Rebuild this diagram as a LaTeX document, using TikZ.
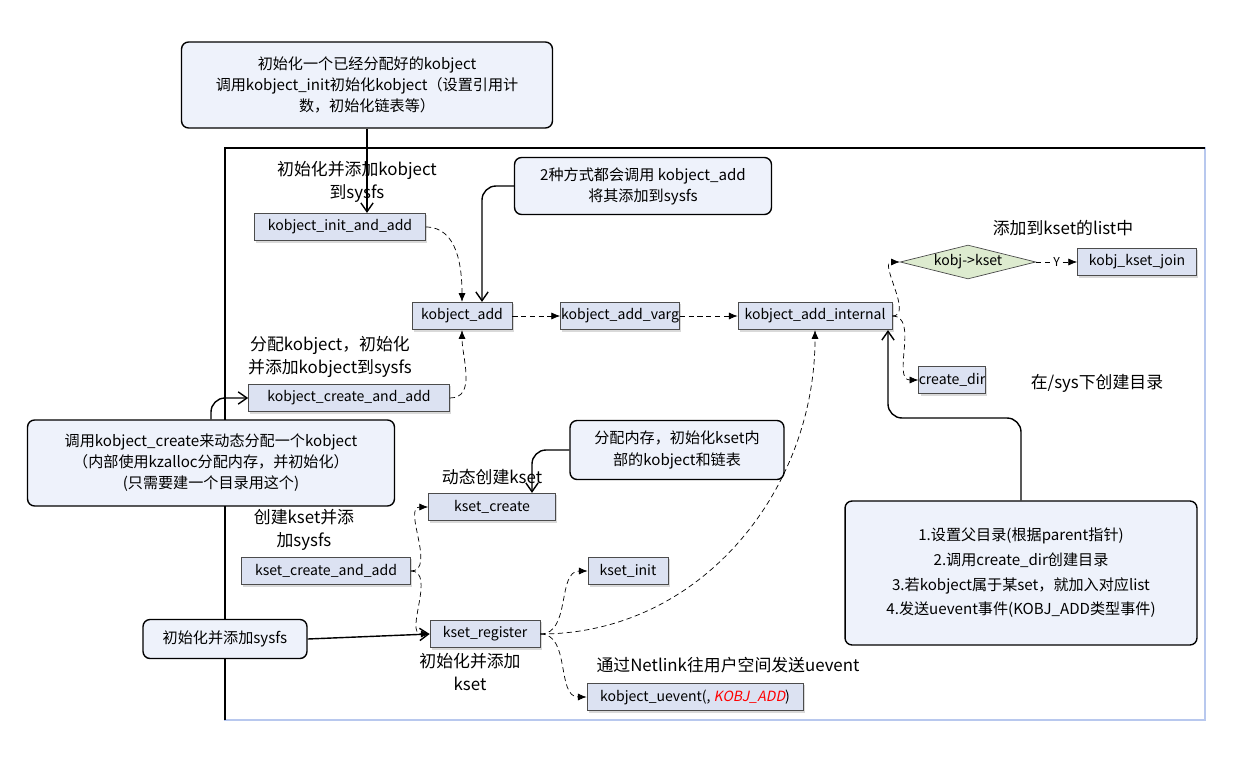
\documentclass[tikz,border=0pt]{standalone}
\usepackage{fontspec}
\setmainfont{Noto Sans CJK SC}
\newfontfamily\slfont{Noto Sans CJK SC}[FakeSlant=0.2]
\usetikzlibrary{shapes.geometric,arrows.meta,shadows}
\definecolor{boxfill}{HTML}{DCE2F2}
\definecolor{notefill}{HTML}{EEF2FB}
\definecolor{diafill}{HTML}{DDEBCF}
\definecolor{framecol}{HTML}{B8C8EE}
\tikzset{
  func/.style={draw=black!70, fill=boxfill, font=\fontsize{8}{9}\selectfont, inner sep=0pt,
    minimum height=0.55cm, drop shadow={shadow xshift=1pt, shadow yshift=-1pt, opacity=0.3}},
  note/.style={draw, thick, fill=notefill, rounded corners=4pt, align=center,
    font=\fontsize{8.6}{12}\selectfont, inner sep=0pt},
  lbl/.style={align=center, font=\fontsize{9.6}{13}\selectfont},
  flow/.style={densely dashed, -{Latex[length=5pt,width=4pt]}},
  call/.style={thick, -{Straight Barb[length=5pt,width=7pt]}, rounded corners=8pt}
}
\begin{document}
\begin{tikzpicture}[x=0.02cm, y=-0.02cm]
\useasboundingbox (0,0) rectangle (1243,760);
% frame
\draw[framecol, thick] (225,148) rectangle (1205,720);
\draw[very thick] (225,720) -- (225,148) -- (1205,148);

% kobject functions
\node[func, minimum width=3.42cm] (kinit) at (340,227) {kobject\_init\_and\_add};
\node[func, minimum width=2cm] (kadd) at (462,316) {kobject\_add};
\node[func, minimum width=2.38cm] (kvarg) at (620,316) {kobject\_add\_varg};
\node[func, minimum width=3.08cm] (kinternal) at (815,316) {kobject\_add\_internal};
\node[diamond, draw=black!70, fill=diafill, aspect=4, inner sep=0.5pt, minimum height=0.56cm,
  font=\fontsize{8}{9}\selectfont] (haskset) at (968,262) {kobj->kset};
\node[func, minimum width=2.38cm] (kjoin) at (1137,262) {kobj\_kset\_join};
\node[func, minimum width=1.26cm] (createdir) at (952,380) {create\_dir};
\node[func, minimum width=4.02cm] (kcreate) at (349,398) {kobject\_create\_and\_add};

% kset functions
\node[func, minimum width=2.54cm] (ksetcreate) at (492,507) {kset\_create};
\node[func, minimum width=3.38cm] (ksetadd) at (326,571) {kset\_create\_and\_add};
\node[func, minimum width=1.6cm] (ksetinit) at (628,571) {kset\_init};
\node[func, minimum width=2.2cm] (kreg) at (485,634) {kset\_register};
\node[func, minimum width=4.32cm] (kuevent) at (695,697) {kobject\_uevent(, \textcolor{red}{\slfont KOBJ\_ADD})};

% labels
\node[lbl] (linit) at (357,182) {初始化并添加kobject\\到sysfs};
\node[lbl] (lcreate) at (330,357) {分配kobject，初始化\\并添加kobject到sysfs};
\node[lbl] (ljoin) at (1063,228) {添加到kset的list中};
\node[lbl] (ldir) at (1097,383) {在/sys下创建目录};
\node[lbl] (lkcreate) at (492,477) {动态创建kset};
\node[lbl] (lksetadd) at (304,530) {创建kset并添\\加sysfs};
\node[lbl] (lkreg) at (470,672) {初始化并添加\\kset};
\node[lbl] (luevent) at (728,665) {通过Netlink往用户空间发送uevent};

% notes
\node[note, minimum width=7.42cm, minimum height=1.72cm] (ninit) at (367,85)
  {初始化一个已经分配好的kobject\\调用kobject\_init初始化kobject（设置引用计\\数，初始化链表等）};
\node[note, minimum width=5.14cm, minimum height=1.14cm] (nadd) at (643,186)
  {2种方式都会调用 kobject\_add\\将其添加到sysfs};
\node[note, minimum width=7.34cm, minimum height=1.72cm] (ncreate) at (211,463)
  {调用kobject\_create来动态分配一个kobject\\（内部使用kzalloc分配内存，并初始化）\\(只需要建一个目录用这个)};
\node[note, minimum width=4.28cm, minimum height=1.18cm] (nkset) at (677,450)
  {分配内存，初始化kset内\\部的kobject和链表};
\node[note, minimum width=7.04cm, minimum height=2.88cm, font=\fontsize{8.6}{14}\selectfont] (ninternal) at (1021,573)
  {1.设置父目录(根据parent指针)\\2.调用create\_dir创建目录\\3.若kobject属于某set，就加入对应list\\4.发送uevent事件(KOBJ\_ADD类型事件)};
\node[note, minimum width=3.28cm, minimum height=0.78cm] (nreg) at (225,639) {初始化并添加sysfs};

% call flow
\draw[flow] (kinit.east) to[out=0, in=90] (kadd.north);
\draw[flow] (kcreate.east) to[out=0, in=-90] (kadd.south);
\draw[flow] (kadd) -- (kvarg);
\draw[flow] (kvarg) -- (kinternal);
\draw[flow] (kinternal.east) to[out=0, in=180] (haskset.west);
\draw[flow] (kinternal.east) to[out=0, in=180] (createdir.west);
\draw[flow] (haskset) -- node[fill=white, inner sep=1pt, font=\fontsize{7}{8}\selectfont] {Y} (kjoin);
\draw[flow] (ksetadd.east) to[out=0, in=180] (ksetcreate.west);
\draw[flow] (ksetadd.east) to[out=0, in=180] (kreg.west);
\draw[flow] (kreg.east) to[out=0, in=180] (ksetinit.west);
\draw[flow] (kreg.east) to[out=0, in=180] (kuevent.west);
\draw[flow] (kreg.east) to[out=0, in=-90] (kinternal.south);

% note pointers
\draw[call] (ninit.south) -- (kinit.north -| ninit.south);
\draw[call] (nadd.west) -| ([xshift=0.4cm]kadd.north);
\draw[call] (ncreate.north) |- (kcreate.west);
\draw[call] (nkset.west) -| ([xshift=0.8cm]ksetcreate.north);
\draw[call] (nreg.east) -- (kreg.west);
\draw[call] (ninternal.north) |- (888,418) -- ([xshift=1.46cm]kinternal.south);
\end{tikzpicture}
\end{document}
